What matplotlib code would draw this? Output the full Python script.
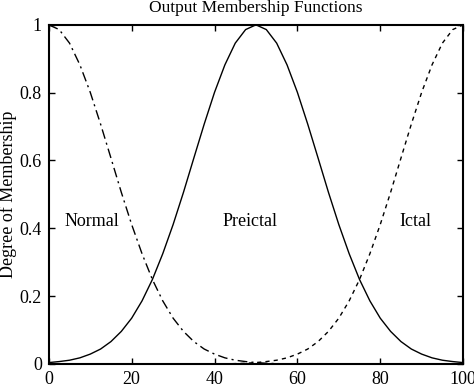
import matplotlib
matplotlib.use("Agg")
import matplotlib.pyplot as plt

# x positions of the sampled membership values
x = [i * 2.5 for i in range(41)]

normal = [1.0, 0.986, 0.946, 0.882, 0.801, 0.707, 0.607, 0.506, 0.411, 0.325,
          0.249, 0.186, 0.135, 0.096, 0.066, 0.044, 0.029, 0.018, 0.011, 0.007,
          0.004, 0.002, 0.001, 0.0, 0.0, 0.0, 0.0, 0.0, 0.0, 0.0,
          0.0, 0.0, 0.0, 0.0, 0.0, 0.0, 0.0, 0.0, 0.0, 0.0, 0.0]
preictal = [0.004, 0.007, 0.011, 0.018, 0.029, 0.044, 0.066, 0.096, 0.135, 0.186,
            0.249, 0.325, 0.411, 0.506, 0.607, 0.707, 0.801, 0.882, 0.946, 0.986,
            1.0, 0.986, 0.946, 0.882, 0.801, 0.707, 0.607, 0.506, 0.411, 0.325,
            0.249, 0.186, 0.135, 0.096, 0.066, 0.044, 0.029, 0.018, 0.011, 0.007, 0.004]
ictal = [0.0, 0.0, 0.0, 0.0, 0.0, 0.0, 0.0, 0.0, 0.0, 0.0,
         0.0, 0.0, 0.0, 0.0, 0.0, 0.0, 0.0, 0.0, 0.001, 0.002,
         0.004, 0.007, 0.011, 0.018, 0.029, 0.044, 0.066, 0.096, 0.135, 0.186,
         0.249, 0.325, 0.411, 0.506, 0.607, 0.707, 0.801, 0.882, 0.946, 0.986, 1.0]

labels = ["Normal", "Preictal", "Ictal"]
label_x = [10.5, 48.5, 88.5]
label_y = 0.42

plt.rcParams['font.family'] = ['Liberation Serif', 'DejaVu Serif']
plt.rcParams['font.size'] = 13

fig = plt.figure(figsize=(4.74, 3.88), dpi=100)
ax = fig.add_axes([0.103, 0.062, 0.874, 0.874])

ax.plot(x, normal, color="black", lw=1.0, linestyle=(0, (7, 3, 1.5, 3)))
ax.plot(x, preictal, color="black", lw=1.0, linestyle="-")
ax.plot(x, ictal, color="black", lw=1.0, linestyle=(0, (3, 3)))

for name, lx in zip(labels, label_x):
    ax.text(lx, label_y, name, ha="center", va="center", fontsize=13)

ax.set_xlim(0, 100)
ax.set_ylim(0, 1)
ax.set_xticks([0, 20, 40, 60, 80, 100])
ax.set_yticks([0, 0.2, 0.4, 0.6, 0.8, 1])
ax.set_yticklabels(["0", "0.2", "0.4", "0.6", "0.8", "1"])
ax.tick_params(direction="in", top=True, right=True, length=4, width=1, pad=5)
for s in ax.spines.values():
    s.set_linewidth(1.5)

ax.set_title("Output Membership Functions", fontsize=12.5, pad=9)
ax.set_ylabel("Degree of Membership", fontsize=13, labelpad=2)

fig.savefig("out.png", dpi=100)
